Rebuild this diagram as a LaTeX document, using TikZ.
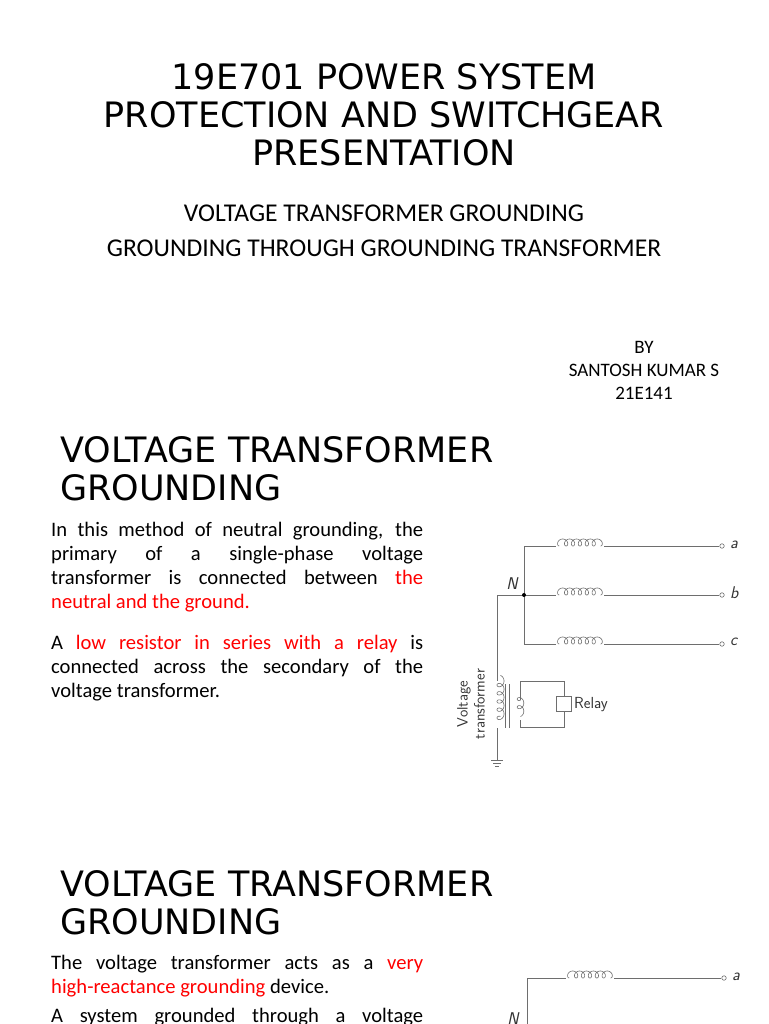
\documentclass[tikz,border=0pt]{standalone}
\usepackage{fontspec}
\setmainfont{Carlito}
\newfontfamily\titlefont{DejaVu Sans}
\definecolor{hl}{RGB}{255,0,0}
\definecolor{wire}{RGB}{110,110,110}
\newcommand{\hr}[1]{\textcolor{hl}{#1}}
\newcommand{\hcoil}[2]{\draw[wire,line width=0.6pt] plot[domain=-180:1980,samples=150,smooth] ({#1+3.2+0.0192*(\x+180)+3.2*sin(\x)}, {#2-3.5*cos(\x)-3.5});}
\begin{document}
\begin{tikzpicture}[x=1pt,y=-1pt,
  title/.style={font=\titlefont\fontsize{35}{38}\selectfont, align=center, inner sep=0},
  head/.style={font=\titlefont\fontsize{35}{38}\selectfont, align=left, anchor=north west, inner sep=0},
  body/.style={font=\fontsize{20.6}{24}\selectfont, text width=372pt, align=justify, anchor=north west, inner sep=0},
  ln/.style={wire, line width=0.8pt},
  term/.style={circle, draw=wire, fill=white, inner sep=0, minimum size=4.5pt, line width=0.6pt},
  lab/.style={font=\sffamily\itshape\fontsize{17}{17}\selectfont, text=black!80, inner sep=0}]
\useasboundingbox (0,0) rectangle (768,1024);
\clip (0,0) rectangle (768,1024);
\hyphenpenalty=10000 \exhyphenpenalty=10000
\node[title] (t) at (384,115) {19E701 POWER SYSTEM\\PROTECTION AND SWITCHGEAR\\PRESENTATION};
\node[font=\fontsize{25.6}{25}\selectfont, inner sep=0] (s1) at (384,213) {VOLTAGE TRANSFORMER GROUNDING};
\node[font=\fontsize{25.6}{25}\selectfont, inner sep=0] (s2) at (384,248) {GROUNDING THROUGH GROUNDING TRANSFORMER};
\node[font=\fontsize{19}{23}\selectfont, align=center, inner sep=0] (by) at (644,370) {BY\\SANTOSH KUMAR S\\21E141};
\node[head] (h1) at (60,436) {VOLTAGE TRANSFORMER\\GROUNDING};
\node[body] (b1) at (51,522) {\hyphenpenalty=10000 In this method of neutral grounding, the\linebreak primary of a single-phase voltage\linebreak transformer is connected between \hr{the\linebreak neutral and the ground.}\par\vspace{17pt}
A \hr{low resistor in series with a relay} is\linebreak connected across the secondary of the\linebreak voltage transformer.};
% diagram 1
\coordinate (Na) at (524,546); \coordinate (N) at (524,595); \coordinate (Nc) at (524,644);
\node[term] (ta) at (722,546) {}; \node[term] (tb) at (722,595) {}; \node[term] (tc) at (722,644) {};
\node[lab, anchor=west] (la) at (730,545) {a};
\node[lab, anchor=west] (lb) at (730,593) {b};
\node[lab, anchor=west] (lc) at (730,642) {c};
\node[lab, anchor=south] (lN) at (512,590) {N};
\foreach \yy/\tt in {546/ta,595/tb,644/tc}{
  \draw[ln] (524,\yy) -- (556,\yy);
  \hcoil{556}{\yy}
  \draw[ln] (604,\yy) -- (\tt);
}
\draw[ln] (Na) -- (Nc);
\draw[ln] (N) -- (497,595) -- (497,681);
\fill (N) circle (2pt);
\draw[wire,line width=0.6pt] plot[domain=-90:1710,samples=150,smooth] ({497+3.5*cos(\x)+3.5}, {681+0.0253*\x*0.9+3.5*sin(\x)});
\draw[ln] (497,728) -- (497,760);
\draw[ln] (491,760) -- (503,760) (493,763) -- (501,763) (495,766) -- (499,766);
\draw[wire,line width=0.9pt] (505,684) -- (505,728) (509,684) -- (509,728);
\draw[ln] (520,681) -- (564,681) -- (564,727) -- (520,727);
\draw[ln] (520,681) -- (520,700) (520,720) -- (520,727);
\draw[wire,line width=0.6pt] plot[domain=90:810,samples=60,smooth] ({520+3.3*cos(\x)+0.5}, {698+0.0125*\x*1.8-3+3.3*sin(\x)});
\node[draw=wire, fill=white, line width=0.8pt, minimum width=15pt, minimum height=15pt, inner sep=0] (relay) at (564,704) {};
\node[font=\sffamily\fontsize{16}{16}\selectfont, text=black!80, anchor=west, inner sep=0] (rl) at (574,705) {Relay};
\node[font=\sffamily\fontsize{15}{17}\selectfont, text=black!80, rotate=90, align=center, inner sep=0] (vt) at (471,704) {Voltage\\transformer};
% section 2
\node[head] (h2) at (60,870) {VOLTAGE TRANSFORMER\\GROUNDING};
\node[body] (b2) at (51,955) {\hyphenpenalty=10000 The voltage transformer acts as a \hr{very\linebreak high-reactance grounding} device.\par\vspace{5pt}
A system grounded through a voltage transformer};
\node[term] (ta2) at (724,978) {};
\node[lab, anchor=west] (la2) at (732,977) {a};
\node[lab, anchor=south] (lN2) at (513,1025) {N};
\draw[ln] (527,1030) -- (527,978) -- (566,978);
\hcoil{566}{978}
\draw[ln] (614,978) -- (ta2);
\end{tikzpicture}
\end{document}
